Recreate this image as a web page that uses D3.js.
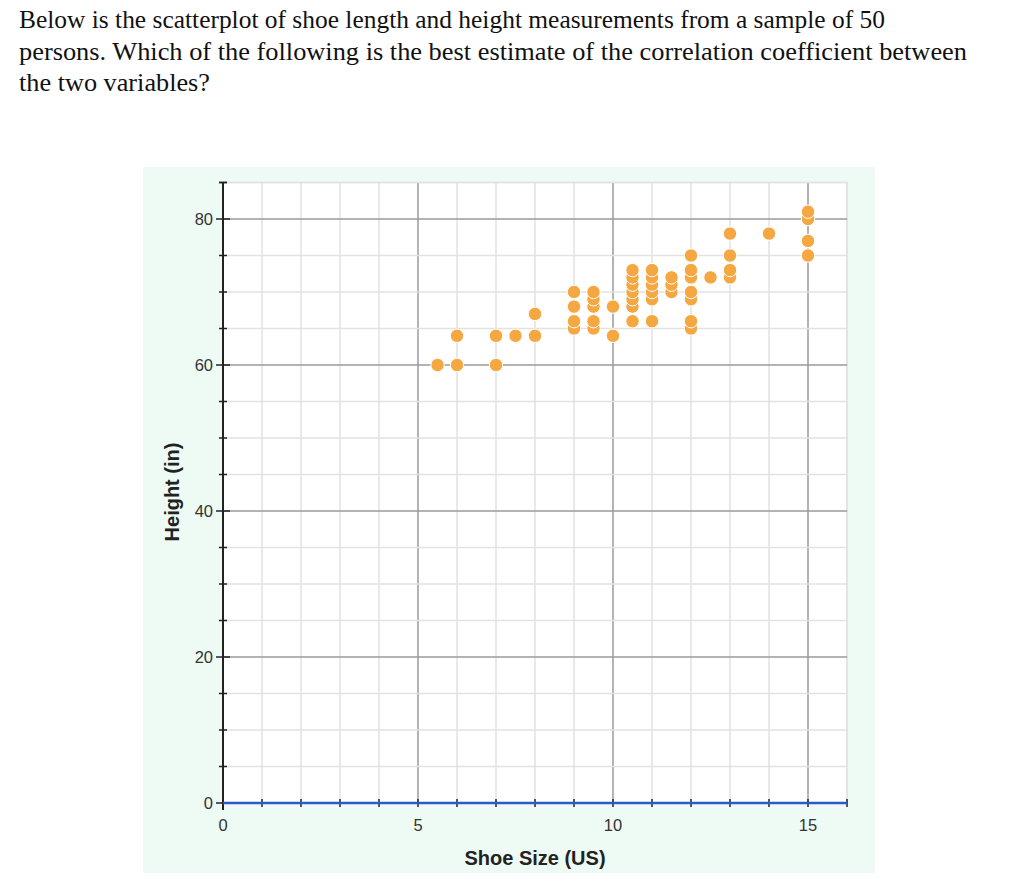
<!DOCTYPE html>
<html><head><meta charset="utf-8">
<script src="https://cdn.jsdelivr.net/npm/d3@7"></script>
<style>
body{margin:0;background:#fff;}
svg{display:block;}
</style></head>
<body>
<svg id="chart" width="1024" height="886"></svg>
<script>
const questionLines = [
  "Below is the scatterplot of shoe length and height measurements from a sample of 50",
  "persons. Which of the following is the best estimate of the correlation coefficient between",
  "the two variables?"
];
const questionWidths = [866, 948, 191];
const xTitle = "Shoe Size (US)";
const yTitle = "Height (in)";
const xTickLabels = [0, 5, 10, 15];
const yTickLabels = [0, 20, 40, 60, 80];
const shoeSize = [5.5, 6, 6, 7, 7, 7.5, 8, 8,
  9, 9, 9, 9,
  9.5, 9.5, 9.5, 9.5, 9.5,
  10, 10,
  10.5, 10.5, 10.5, 10.5, 10.5, 10.5, 10.5,
  11, 11, 11, 11, 11, 11,
  11.5, 11.5, 11.5,
  12, 12, 12, 12, 12, 12, 12,
  12.5,
  13, 13, 13, 13,
  14,
  15, 15, 15, 15];
const heightIn = [60, 60, 64, 60, 64, 64, 64, 67,
  70, 68, 66, 65,
  70, 69, 68, 66, 65,
  68, 64,
  73, 72, 71, 70, 69, 68, 66,
  73, 72, 71, 70, 69, 66,
  72, 71, 70,
  75, 73, 72, 70, 69, 66, 65,
  72,
  78, 75, 73, 72,
  78,
  81, 80, 77, 75];

const svg = d3.select("#chart");
const serif = "'Liberation Serif','Times New Roman',serif";
const sans = "'Liberation Sans',Arial,Helvetica,sans-serif";

svg.selectAll("text.q").data(questionLines).join("text")
  .attr("class","q").attr("x",19).attr("y",(d,i)=>28+i*31.5)
  .attr("font-family",serif).attr("font-size",25.5).attr("fill","#111")
  .attr("textLength",(d,i)=>questionWidths[i]).attr("lengthAdjust","spacingAndGlyphs")
  .text(d=>d);

// panel background
svg.append("rect").attr("x",143).attr("y",167).attr("width",732).attr("height",706).attr("fill","#eefbf4");

const x = d3.scaleLinear().domain([0,16]).range([223,847]);
const y = d3.scaleLinear().domain([0,85]).range([803,182.5]);

svg.append("rect").attr("x",x(0)).attr("y",y(85)).attr("width",x(16)-x(0)).attr("height",y(0)-y(85))
  .attr("fill","#fff").attr("stroke","#e2e2e2").attr("stroke-width",1.5);

const xMinor = d3.range(1,17);
const yMinor = d3.range(5,86,5);
const g = svg.append("g");
g.selectAll("line.xg").data(xMinor).join("line")
  .attr("x1",d=>x(d)).attr("x2",d=>x(d)).attr("y1",y(85)).attr("y2",y(0))
  .attr("stroke",d=>d%5===0?"#9a9a9a":"#e2e2e2").attr("stroke-width",1.5);
g.selectAll("line.yg").data(yMinor).join("line")
  .attr("y1",d=>y(d)).attr("y2",d=>y(d)).attr("x1",x(0)).attr("x2",x(16))
  .attr("stroke",d=>d%20===0?"#9a9a9a":"#e2e2e2").attr("stroke-width",1.5);

// y axis
svg.append("line").attr("x1",x(0)).attr("x2",x(0)).attr("y1",y(85)).attr("y2",y(0)+7)
  .attr("stroke","#222").attr("stroke-width",2);
svg.selectAll("line.yt").data(d3.range(0,86,5)).join("line")
  .attr("x1",d=>x(0)-(d%20===0?7:4)).attr("x2",d=>x(0)+(d%20===0?7:4))
  .attr("y1",d=>y(d)).attr("y2",d=>y(d)).attr("stroke","#222").attr("stroke-width",1.5);
svg.append("line").attr("x1",x(0)-4).attr("x2",x(0)+4).attr("y1",y(85)).attr("y2",y(85))
  .attr("stroke","#222").attr("stroke-width",1.5);
svg.selectAll("text.yl").data(yTickLabels).join("text")
  .attr("x",x(0)-10).attr("y",d=>y(d)).attr("dy","0.35em").attr("text-anchor","end")
  .attr("font-family",sans).attr("font-size",16.5).attr("fill","#333").text(d=>d);

// x axis
svg.selectAll("line.xt").data(d3.range(0,17)).join("line")
  .attr("x1",d=>x(d)).attr("x2",d=>x(d)).attr("y1",y(0)-4).attr("y2",y(0)+4)
  .attr("stroke","#222").attr("stroke-width",1.5);
svg.append("line").attr("x1",x(0)).attr("x2",x(16)).attr("y1",y(0)).attr("y2",y(0))
  .attr("stroke","#2a5bc8").attr("stroke-width",2.5);
svg.selectAll("text.xl").data(xTickLabels).join("text")
  .attr("x",d=>x(d)).attr("y",y(0)+22).attr("dy","0.35em").attr("text-anchor","middle")
  .attr("font-family",sans).attr("font-size",16.5).attr("fill","#333").text(d=>d);

svg.append("text").attr("x",535).attr("y",865).attr("text-anchor","middle")
  .attr("font-family",sans).attr("font-weight","bold").attr("font-size",20).attr("fill","#222").text(xTitle);
svg.append("text").attr("transform","translate(179,492) rotate(-90)").attr("text-anchor","middle")
  .attr("font-family",sans).attr("font-weight","bold").attr("font-size",20).attr("fill","#222").text(yTitle);

const pts = shoeSize.map((s,i)=>({s, h:heightIn[i]})).sort((a,b)=>a.h-b.h);
svg.append("g").selectAll("circle").data(pts).join("circle")
  .attr("cx",d=>x(d.s)).attr("cy",d=>y(d.h)).attr("r",6.7)
  .attr("fill","#f5a742").attr("stroke","#fff").attr("stroke-width",1);
</script>
</body></html>
